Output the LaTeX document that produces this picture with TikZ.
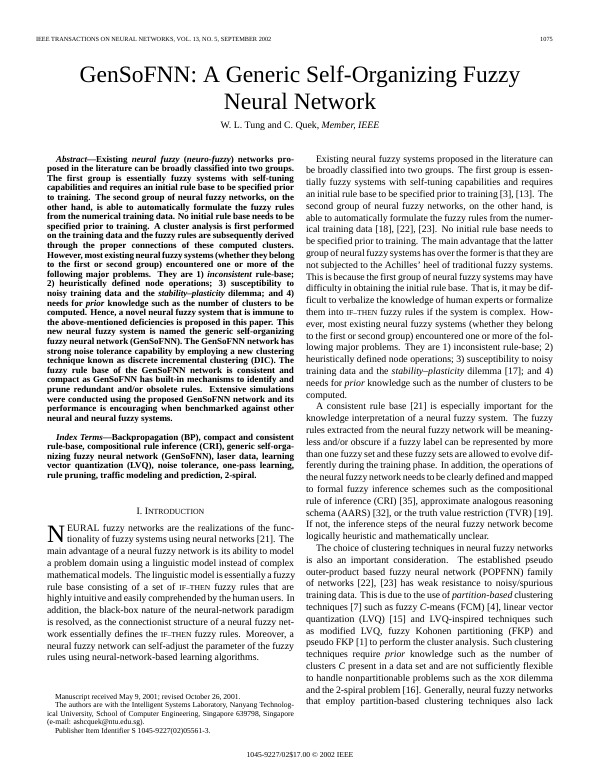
\documentclass[tikz,border=0pt]{standalone}
\usepackage{fontspec}
\setmainfont{Liberation Serif}
\newcounter{ln}
\newcommand\JL[3]{\stepcounter{ln}\node[txt] (ln\arabic{ln}) at (#1,#2) {\makebox[247pt][s]{#3}};}
\newcommand\LL[3]{\stepcounter{ln}\node[txt] (ln\arabic{ln}) at (#1,#2) {#3};}
\newcommand\SC{{\fontsize{7.6}{8}\selectfont IF--THEN}}
\tikzset{txt/.style={anchor=base west,inner sep=0pt,outer sep=0pt}}
\begin{document}
\begin{tikzpicture}[x=1pt,y=-1pt]
\useasboundingbox (0,0) rectangle (600,776);
\fill[white] (0,0) rectangle (600,776);
% header
\node[txt] (hd) at (36,42) {\fontsize{6.3}{7}\selectfont IEEE TRANSACTIONS ON NEURAL NETWORKS, VOL. 13, NO. 5, SEPTEMBER 2002};
\node[anchor=base east,inner sep=0] (pg) at (553,42) {\fontsize{6.3}{7}\selectfont 1075};
\node[anchor=base,inner sep=0] (t1) at (300,82) {\fontsize{23.5}{26}\selectfont GenSoFNN: A Generic Self-Organizing Fuzzy};
\node[anchor=base,inner sep=0] (t2) at (300,109) {\fontsize{23.5}{26}\selectfont Neural Network};
\node[anchor=base,inner sep=0] (au) at (300,128) {\fontsize{9.8}{11}\selectfont W. L. Tung and C. Quek, \textit{Member, IEEE}};
% abstract
\begin{scope}[font=\fontsize{9.0}{9.6}\selectfont\bfseries]
\def\a{47}\def\b{9.6}\def\s{162}
\JL{\a}{\s}{\hspace{9pt}\textit{Abstract}---Existing \textit{neural fuzzy} (\textit{neuro-fuzzy}) networks pro-}
\JL{\a}{\s+\b}{posed in the literature can be broadly classified into two groups.}
\JL{\a}{\s+2*\b}{The first group is essentially fuzzy systems with self-tuning}
\JL{\a}{\s+3*\b}{capabilities and requires an initial rule base to be specified prior}
\JL{\a}{\s+4*\b}{to training. The second group of neural fuzzy networks, on the}
\JL{\a}{\s+5*\b}{other hand, is able to automatically formulate the fuzzy rules}
\JL{\a}{\s+6*\b}{from the numerical training data. No initial rule base needs to be}
\JL{\a}{\s+7*\b}{specified prior to training. A cluster analysis is first performed}
\JL{\a}{\s+8*\b}{on the training data and the fuzzy rules are subsequently derived}
\JL{\a}{\s+9*\b}{through the proper connections of these computed clusters.}
\JL{\a}{\s+10*\b}{However, most existing neural fuzzy systems (whether they belong}
\JL{\a}{\s+11*\b}{to the first or second group) encountered one or more of the}
\JL{\a}{\s+12*\b}{following major problems. They are 1) \textit{inconsistent} rule-base;}
\JL{\a}{\s+13*\b}{2) heuristically defined node operations; 3) susceptibility to}
\JL{\a}{\s+14*\b}{noisy training data and the \textit{stability--plasticity} dilemma; and 4)}
\JL{\a}{\s+15*\b}{needs for \textit{prior} knowledge such as the number of clusters to be}
\JL{\a}{\s+16*\b}{computed. Hence, a novel neural fuzzy system that is immune to}
\JL{\a}{\s+17*\b}{the above-mentioned deficiencies is proposed in this paper. This}
\JL{\a}{\s+18*\b}{new neural fuzzy system is named the generic self-organizing}
\JL{\a}{\s+19*\b}{fuzzy neural network (GenSoFNN). The GenSoFNN network has}
\JL{\a}{\s+20*\b}{strong noise tolerance capability by employing a new clustering}
\JL{\a}{\s+21*\b}{technique known as discrete incremental clustering (DIC). The}
\JL{\a}{\s+22*\b}{fuzzy rule base of the GenSoFNN network is consistent and}
\JL{\a}{\s+23*\b}{compact as GenSoFNN has built-in mechanisms to identify and}
\JL{\a}{\s+24*\b}{prune redundant and/or obsolete rules. Extensive simulations}
\JL{\a}{\s+25*\b}{were conducted using the proposed GenSoFNN network and its}
\JL{\a}{\s+26*\b}{performance is encouraging when benchmarked against other}
\LL{\a}{\s+27*\b}{neural and neural fuzzy systems.}
\def\s{440}
\JL{\a}{\s}{\hspace{9pt}\textit{Index Terms}---Backpropagation (BP), compact and consistent}
\JL{\a}{\s+\b}{rule-base, compositional rule inference (CRI), generic self-orga-}
\JL{\a}{\s+2*\b}{nizing fuzzy neural network (GenSoFNN), laser data, learning}
\JL{\a}{\s+3*\b}{vector quantization (LVQ), noise tolerance, one-pass learning,}
\LL{\a}{\s+4*\b}{rule pruning, traffic modeling and prediction, 2-spiral.}
\end{scope}
% intro
\begin{scope}[font=\fontsize{9.8}{11.8}\selectfont]
\node[anchor=base,inner sep=0] (sec) at (170.5,514) {I. I{\fontsize{7.8}{9}\selectfont NTRODUCTION}};
\def\a{47}\def\b{11.8}\def\s{531}
\node[anchor=base west,inner sep=0] (N) at (\a,\s+\b) {\fontsize{25}{25}\selectfont N};
\stepcounter{ln}\node[txt] (ln\arabic{ln}) at (\a+20,\s) {\makebox[227pt][s]{EURAL fuzzy networks are the realizations of the func-}};
\stepcounter{ln}\node[txt] (ln\arabic{ln}) at (\a+20,\s+\b) {\makebox[227pt][s]{tionality of fuzzy systems using neural networks [21]. The}};
\JL{\a}{\s+2*\b}{main advantage of a neural fuzzy network is its ability to model}
\JL{\a}{\s+3*\b}{a problem domain using a linguistic model instead of complex}
\JL{\a}{\s+4*\b}{mathematical models. The linguistic model is essentially a fuzzy}
\JL{\a}{\s+5*\b}{rule base consisting of a set of \SC{} fuzzy rules that are}
\JL{\a}{\s+6*\b}{highly intuitive and easily comprehended by the human users. In}
\JL{\a}{\s+7*\b}{addition, the black-box nature of the neural-network paradigm}
\JL{\a}{\s+8*\b}{is resolved, as the connectionist structure of a neural fuzzy net-}
\JL{\a}{\s+9*\b}{work essentially defines the \SC{} fuzzy rules. Moreover, a}
\JL{\a}{\s+10*\b}{neural fuzzy network can self-adjust the parameter of the fuzzy}
\LL{\a}{\s+11*\b}{rules using neural-network-based learning algorithms.}
% right column
\def\a{306}\def\s{162}
\JL{\a}{\s}{\hspace{10pt}Existing neural fuzzy systems proposed in the literature can}
\JL{\a}{\s+\b}{be broadly classified into two groups. The first group is essen-}
\JL{\a}{\s+2*\b}{tially fuzzy systems with self-tuning capabilities and requires}
\JL{\a}{\s+3*\b}{an initial rule base to be specified prior to training [3], [13]. The}
\JL{\a}{\s+4*\b}{second group of neural fuzzy networks, on the other hand, is}
\JL{\a}{\s+5*\b}{able to automatically formulate the fuzzy rules from the numer-}
\JL{\a}{\s+6*\b}{ical training data [18], [22], [23]. No initial rule base needs to}
\JL{\a}{\s+7*\b}{be specified prior to training. The main advantage that the latter}
\JL{\a}{\s+8*\b}{group of neural fuzzy systems has over the former is that they are}
\JL{\a}{\s+9*\b}{not subjected to the Achilles' heel of traditional fuzzy systems.}
\JL{\a}{\s+10*\b}{This is because the first group of neural fuzzy systems may have}
\JL{\a}{\s+11*\b}{difficulty in obtaining the initial rule base. That is, it may be dif-}
\JL{\a}{\s+12*\b}{ficult to verbalize the knowledge of human experts or formalize}
\JL{\a}{\s+13*\b}{them into \SC{} fuzzy rules if the system is complex. How-}
\JL{\a}{\s+14*\b}{ever, most existing neural fuzzy systems (whether they belong}
\JL{\a}{\s+15*\b}{to the first or second group) encountered one or more of the fol-}
\JL{\a}{\s+16*\b}{lowing major problems. They are 1) inconsistent rule-base; 2)}
\JL{\a}{\s+17*\b}{heuristically defined node operations; 3) susceptibility to noisy}
\JL{\a}{\s+18*\b}{training data and the \textit{stability--plasticity} dilemma [17]; and 4)}
\JL{\a}{\s+19*\b}{needs for \textit{prior} knowledge such as the number of clusters to be}
\LL{\a}{\s+20*\b}{computed.}
\JL{\a}{\s+21*\b}{\hspace{10pt}A consistent rule base [21] is especially important for the}
\JL{\a}{\s+22*\b}{knowledge interpretation of a neural fuzzy system. The fuzzy}
\JL{\a}{\s+23*\b}{rules extracted from the neural fuzzy network will be meaning-}
\JL{\a}{\s+24*\b}{less and/or obscure if a fuzzy label can be represented by more}
\JL{\a}{\s+25*\b}{than one fuzzy set and these fuzzy sets are allowed to evolve dif-}
\JL{\a}{\s+26*\b}{ferently during the training phase. In addition, the operations of}
\JL{\a}{\s+27*\b}{the neural fuzzy network needs to be clearly defined and mapped}
\JL{\a}{\s+28*\b}{to formal fuzzy inference schemes such as the compositional}
\JL{\a}{\s+29*\b}{rule of inference (CRI) [35], approximate analogous reasoning}
\JL{\a}{\s+30*\b}{schema (AARS) [32], or the truth value restriction (TVR) [19].}
\JL{\a}{\s+31*\b}{If not, the inference steps of the neural fuzzy network become}
\LL{\a}{\s+32*\b}{logically heuristic and mathematically unclear.}
\JL{\a}{\s+33*\b}{\hspace{10pt}The choice of clustering techniques in neural fuzzy networks}
\JL{\a}{\s+34*\b}{is also an important consideration. The established pseudo}
\JL{\a}{\s+35*\b}{outer-product based fuzzy neural network (POPFNN) family}
\JL{\a}{\s+36*\b}{of networks [22], [23] has weak resistance to noisy/spurious}
\JL{\a}{\s+37*\b}{training data. This is due to the use of \textit{partition-based} clustering}
\JL{\a}{\s+38*\b}{techniques [7] such as fuzzy \textit{C}-means (FCM) [4], linear vector}
\JL{\a}{\s+39*\b}{quantization (LVQ) [15] and LVQ-inspired techniques such}
\JL{\a}{\s+40*\b}{as modified LVQ, fuzzy Kohonen partitioning (FKP) and}
\JL{\a}{\s+41*\b}{pseudo FKP [1] to perform the cluster analysis. Such clustering}
\JL{\a}{\s+42*\b}{techniques require \textit{prior} knowledge such as the number of}
\JL{\a}{\s+43*\b}{clusters \textit{C} present in a data set and are not sufficiently flexible}
\JL{\a}{\s+44*\b}{to handle nonpartitionable problems such as the {\fontsize{7.8}{9}\selectfont XOR} dilemma}
\JL{\a}{\s+45*\b}{and the 2-spiral problem [16]. Generally, neural fuzzy networks}
\JL{\a}{\s+46*\b}{that employ partition-based clustering techniques also lack}
\end{scope}
% footnotes
\begin{scope}[font=\fontsize{7.6}{8.5}\selectfont]
\def\a{47}\def\b{8.6}\def\s{699}
\LL{\a+8}{\s}{Manuscript received May 9, 2001; revised October 26, 2001.}
\JL{\a}{\s+\b}{\hspace{8pt}The authors are with the Intelligent Systems Laboratory, Nanyang Technolog-}
\JL{\a}{\s+2*\b}{ical University, School of Computer Engineering, Singapore 639798, Singapore}
\LL{\a}{\s+3*\b}{(e-mail: ashcquek@ntu.edu.sg).}
\LL{\a+8}{\s+4*\b}{Publisher Item Identifier S 1045-9227(02)05561-3.}
\node[anchor=base,inner sep=0] (ft) at (300,757) {1045-9227/02\$17.00 \copyright{} 2002 IEEE};
\end{scope}
\end{tikzpicture}
\end{document}
